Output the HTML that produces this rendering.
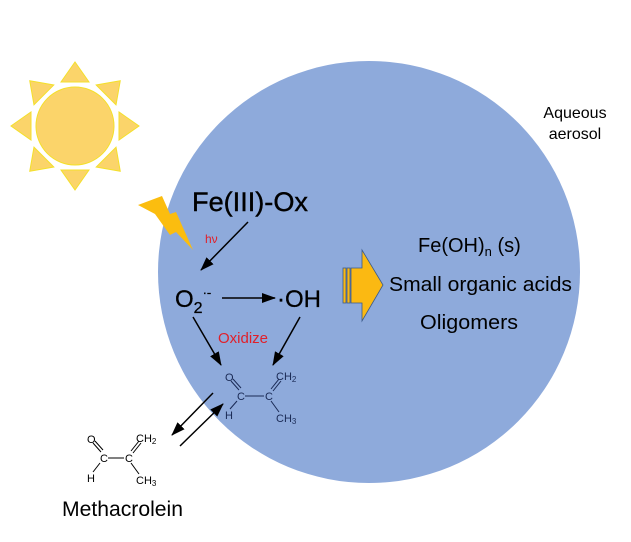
<!DOCTYPE html>
<html><head><meta charset="utf-8"><style>
html,body{margin:0;padding:0;background:#fff;}
svg{display:block;font-family:"Liberation Sans",Arial,sans-serif;}
</style></head><body>
<svg width="631" height="542" viewBox="0 0 631 542" xmlns="http://www.w3.org/2000/svg">
<defs>
<marker id="ah2" markerWidth="14" markerHeight="10" refX="13" refY="5" orient="auto" markerUnits="userSpaceOnUse">
<path d="M0,0 L14,5 L0,10 z" fill="#000"/></marker>
</defs>
<circle cx="369" cy="272" r="211" fill="#8eaadb"/>
<!-- sun -->
<g fill="#fbd46a" stroke="#f4e02a" stroke-width="1">
<g transform="translate(75,126)">
<polygon points="-14,-44 14,-44 0,-64"/>
<polygon points="-14,-44 14,-44 0,-64" transform="rotate(45)"/>
<polygon points="-14,-44 14,-44 0,-64" transform="rotate(90)"/>
<polygon points="-14,-44 14,-44 0,-64" transform="rotate(135)"/>
<polygon points="-14,-44 14,-44 0,-64" transform="rotate(180)"/>
<polygon points="-14,-44 14,-44 0,-64" transform="rotate(225)"/>
<polygon points="-14,-44 14,-44 0,-64" transform="rotate(270)"/>
<polygon points="-14,-44 14,-44 0,-64" transform="rotate(315)"/>
<circle r="39"/>
</g></g>
<!-- lightning -->
<polygon points="138,205 162,196 170,214 176,212 193,250 176,232 170,235 155,214" fill="#fbbd0f"/>
<text x="192" y="211" font-size="27" stroke="#000" stroke-width="0.4" textLength="116" lengthAdjust="spacingAndGlyphs">Fe(III)-Ox</text>
<text x="205" y="243" font-size="12" fill="#e0202a">hν</text>
<line x1="248" y1="222" x2="201" y2="270" stroke="#000" stroke-width="1.5" marker-end="url(#ah2)"/>
<text x="175" y="307" font-size="24" stroke="#000" stroke-width="0.3">O<tspan font-size="16" dy="6">2</tspan><tspan font-size="13" dy="-16">·-</tspan></text>
<line x1="222" y1="298" x2="275" y2="298" stroke="#000" stroke-width="1.5" marker-end="url(#ah2)"/>
<text x="277" y="307" font-size="24" stroke="#000" stroke-width="0.3">·OH</text>
<text x="218" y="343" font-size="15" fill="#e0202a">Oxidize</text>
<line x1="193" y1="317" x2="221" y2="365" stroke="#000" stroke-width="1.5" marker-end="url(#ah2)"/>
<line x1="300" y1="317" x2="273" y2="365" stroke="#000" stroke-width="1.5" marker-end="url(#ah2)"/>
<!-- molecule inside -->
<g font-size="11" fill="#1a2a55" stroke="none">
<text x="225" y="381">O</text>
<text x="237" y="400">C</text>
<text x="265" y="400">C</text>
<text x="276" y="380">CH<tspan font-size="8" dy="2">2</tspan></text>
<text x="225" y="419">H</text>
<text x="276" y="422">CH<tspan font-size="8" dy="2">3</tspan></text>
</g>
<g stroke="#1a2a55" stroke-width="1">
<line x1="231" y1="381" x2="239" y2="390"/><line x1="233" y1="379" x2="241" y2="388"/>
<line x1="245" y1="396" x2="264" y2="396"/>
<line x1="271" y1="389" x2="279" y2="379"/><line x1="273" y1="391" x2="281" y2="381"/>
<line x1="237" y1="401" x2="230" y2="409"/>
<line x1="271" y1="401" x2="279" y2="412"/>
</g>
<!-- equilibrium arrows -->
<line x1="213" y1="393" x2="172" y2="435" stroke="#000" stroke-width="1.5" marker-end="url(#ah2)"/>
<line x1="180" y1="446" x2="223" y2="404" stroke="#000" stroke-width="1.5" marker-end="url(#ah2)"/>
<!-- molecule outside -->
<g font-size="11" fill="#000">
<text x="87" y="443">O</text>
<text x="100" y="462">C</text>
<text x="125" y="462">C</text>
<text x="136" y="442">CH<tspan font-size="8" dy="2">2</tspan></text>
<text x="87" y="482">H</text>
<text x="136" y="484">CH<tspan font-size="8" dy="2">3</tspan></text>
</g>
<g stroke="#000" stroke-width="1">
<line x1="93" y1="443" x2="101" y2="452"/><line x1="95" y1="441" x2="103" y2="450"/>
<line x1="108" y1="458" x2="124" y2="458"/>
<line x1="131" y1="451" x2="139" y2="441"/><line x1="133" y1="453" x2="141" y2="443"/>
<line x1="100" y1="463" x2="93" y2="472"/>
<line x1="131" y1="463" x2="139" y2="474"/>
</g>
<text x="62" y="516" font-size="21" textLength="121" lengthAdjust="spacingAndGlyphs">Methacrolein</text>
<!-- block arrow -->
<g fill="#fbb912" stroke="#3b5a8a" stroke-width="0.8">
<rect x="343" y="268" width="3" height="35"/>
<rect x="347" y="268" width="3" height="35"/>
<polygon points="351,268 362,268 362,250 383,285 362,321 362,303 351,303"/>
</g>
<g font-size="20" fill="#000">
<text x="418" y="252">Fe(OH)<tspan font-size="13" dy="4">n</tspan><tspan dy="-4"> (s)</tspan></text>
<text x="389" y="291" textLength="183" lengthAdjust="spacingAndGlyphs">Small organic acids</text>
<text x="420" y="329" textLength="98" lengthAdjust="spacingAndGlyphs">Oligomers</text>
</g>
<g font-size="16" fill="#000" text-anchor="middle">
<text x="575" y="118">Aqueous</text>
<text x="575" y="139">aerosol</text>
</g>
</svg>
</body></html>
